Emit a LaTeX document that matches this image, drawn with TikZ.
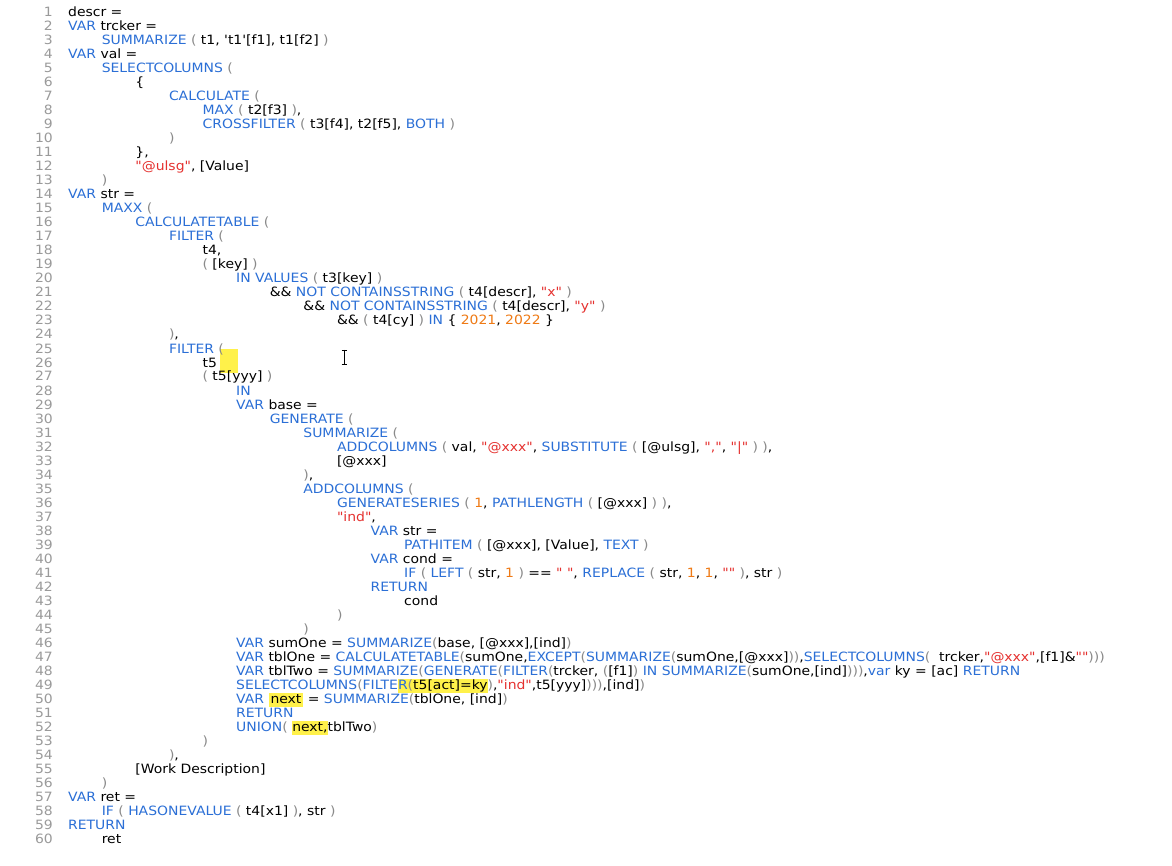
\documentclass[tikz,border=0pt]{standalone}
\usepackage{fontspec}
\newfontfamily\codefont[FakeStretch=1.09]{DejaVu Sans}
\definecolor{kw}{HTML}{2B6FD6}
\definecolor{st}{HTML}{E5312F}
\definecolor{nu}{HTML}{EF7A15}
\definecolor{pc}{HTML}{8A8A8A}
\definecolor{ln}{HTML}{9A9A9A}
\definecolor{hlc}{HTML}{FFF14A}
\newcommand\K[1]{{\color{kw}#1}}
\newcommand\Q[1]{{\color{st}#1}}
\newcommand\Nu[1]{{\color{nu}#1}}
\newcommand\op{{\color{pc}(}}
\newcommand\cp{{\color{pc})}}
\newcommand\hl[1]{{\setlength\fboxsep{0pt}\colorbox{hlc}{\rule[-3.5pt]{0pt}{14pt}#1}}}
\newcommand\hlp[1]{{\setlength\fboxsep{0pt}\colorbox{hlc}{\rule[-3.5pt]{0pt}{14pt}\kern2pt#1\kern2pt}}}
\tikzset{codeline/.style={anchor=base west,inner sep=0pt,font=\codefont\fontsize{12.8}{14}\selectfont},
  lnum/.style={anchor=base east,inner sep=0pt,text=ln,font=\codefont\fontsize{12.8}{14}\selectfont}}
\newcommand\CL[3]{\node[codeline] (c#1) at ({68+8.4*#2},{-(17+14*(#1-1))}) {#3};
  \node[lnum] (n#1) at (53,{-(17+14*(#1-1))}) {#1};}
\begin{document}
\begin{tikzpicture}[x=1pt,y=1pt]
\useasboundingbox[fill=white] (0,0) rectangle (1172,-866);
\fill[hlc] (220,-349) rectangle (238,-373);
\CL{1}{0}{descr =}
\CL{2}{0}{\K{VAR} trcker =}
\CL{3}{4}{\K{SUMMARIZE} \op{} t1, 't1'[f1], t1[f2] \cp}
\CL{4}{0}{\K{VAR} val =}
\CL{5}{4}{\K{SELECTCOLUMNS} \op}
\CL{6}{8}{\{}
\CL{7}{12}{\K{CALCULATE} \op}
\CL{8}{16}{\K{MAX} \op{} t2[f3] \cp{},}
\CL{9}{16}{\K{CROSSFILTER} \op{} t3[f4], t2[f5], \K{BOTH} \cp}
\CL{10}{12}{\cp}
\CL{11}{8}{\},}
\CL{12}{8}{\Q{"@ulsg"}, [Value]}
\CL{13}{4}{\cp}
\CL{14}{0}{\K{VAR} str =}
\CL{15}{4}{\K{MAXX} \op}
\CL{16}{8}{\K{CALCULATETABLE} \op}
\CL{17}{12}{\K{FILTER} \op}
\CL{18}{16}{t4,}
\CL{19}{16}{\op{} [key] \cp}
\CL{20}{20}{\K{IN} \K{VALUES} \op{} t3[key] \cp}
\CL{21}{24}{\&\& \K{NOT} \K{CONTAINSSTRING} \op{} t4[descr], \Q{"x"} \cp}
\CL{22}{28}{\&\& \K{NOT} \K{CONTAINSSTRING} \op{} t4[descr], \Q{"y"} \cp}
\CL{23}{32}{\&\& \op{} t4[cy] \cp{} \K{IN} \{ \Nu{2021}, \Nu{2022} \}}
\CL{24}{12}{\cp{},}
\CL{25}{12}{\K{FILTER} \op}
\CL{26}{16}{t5}
\CL{27}{16}{\op{} t5[yyy] \cp}
\CL{28}{20}{\K{IN}}
\CL{29}{20}{\K{VAR} base =}
\CL{30}{24}{\K{GENERATE} \op}
\CL{31}{28}{\K{SUMMARIZE} \op}
\CL{32}{32}{\K{ADDCOLUMNS} \op{} val, \Q{"@xxx"}, \K{SUBSTITUTE} \op{} [@ulsg], \Q{","}, \Q{"|"} \cp{} \cp{},}
\CL{33}{32}{[@xxx]}
\CL{34}{28}{\cp{},}
\CL{35}{28}{\K{ADDCOLUMNS} \op}
\CL{36}{32}{\K{GENERATESERIES} \op{} \Nu{1}, \K{PATHLENGTH} \op{} [@xxx] \cp{} \cp{},}
\CL{37}{32}{\Q{"ind"},}
\CL{38}{36}{\K{VAR} str =}
\CL{39}{40}{\K{PATHITEM} \op{} [@xxx], [Value], \K{TEXT} \cp}
\CL{40}{36}{\K{VAR} cond =}
\CL{41}{40}{\K{IF} \op{} \K{LEFT} \op{} str, \Nu{1} \cp{} == \Q{" "}, \K{REPLACE} \op{} str, \Nu{1}, \Nu{1}, \Q{""} \cp{}, str \cp}
\CL{42}{36}{\K{RETURN}}
\CL{43}{40}{cond}
\CL{44}{32}{\cp}
\CL{45}{28}{\cp}
\CL{46}{20}{\K{VAR} sumOne = \K{SUMMARIZE}\op{}base, [@xxx],[ind]\cp}
\CL{47}{20}{\K{VAR} tblOne = \K{CALCULATETABLE}\op{}sumOne,\K{EXCEPT}\op\K{SUMMARIZE}\op{}sumOne,[@xxx]\cp\cp{},\K{SELECTCOLUMNS}\op{}~~trcker,\Q{"@xxx"},[f1]\&\Q{""}\cp\cp\cp}
\CL{48}{20}{\K{VAR} tblTwo = \K{SUMMARIZE}\op\K{GENERATE}\op\K{FILTER}\op{}trcker, \op{}[f1]\cp{} \K{IN} \K{SUMMARIZE}\op{}sumOne,[ind]\cp\cp\cp{},\K{var} ky = [ac] \K{RETURN}}
\CL{49}{20}{\K{SELECTCOLUMNS}\op\K{FILTE}\hl{\K{R}\op{}t5[act]=ky}\cp{},\Q{"ind"},t5[yyy]\cp\cp\cp{},[ind]\cp}
\CL{50}{20}{\K{VAR} \hlp{next} = \K{SUMMARIZE}\op{}tblOne, [ind]\cp}
\CL{51}{20}{\K{RETURN}}
\CL{52}{20}{\K{UNION}\op{} \hl{next,}tblTwo\cp}
\CL{53}{16}{\cp}
\CL{54}{12}{\cp{},}
\CL{55}{8}{[Work Description]}
\CL{56}{4}{\cp}
\CL{57}{0}{\K{VAR} ret =}
\CL{58}{4}{\K{IF} \op{} \K{HASONEVALUE} \op{} t4[x1] \cp{}, str \cp}
\CL{59}{0}{\K{RETURN}}
\CL{60}{4}{ret}
% text cursor
\draw[line width=0.9pt] (344,-350) -- (344,-364) (341.5,-350) -- (346.5,-350) (341.5,-364) -- (346.5,-364);
\end{tikzpicture}
\end{document}
